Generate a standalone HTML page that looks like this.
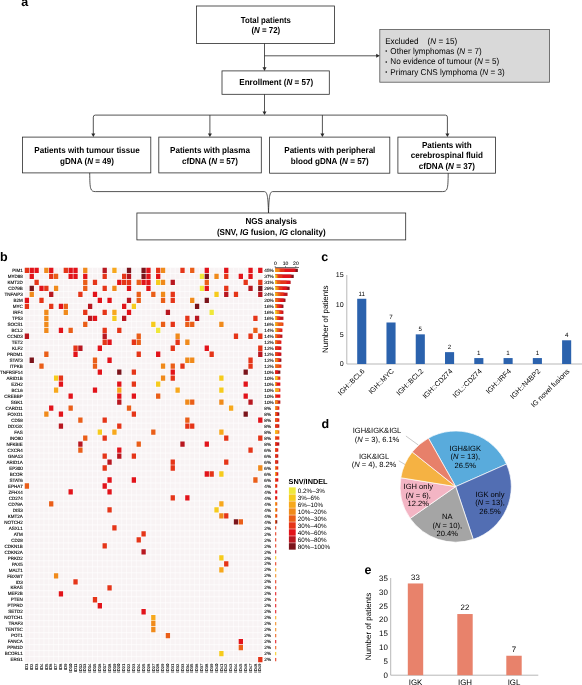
<!DOCTYPE html>
<html lang="en"><head><meta charset="utf-8"><title>Figure</title>
<style>html,body{margin:0;padding:0;background:#fff}svg{display:block}text{font-family:'Liberation Sans', Arial, Helvetica, sans-serif;fill:#000;text-rendering:geometricPrecision}</style></head><body>
<svg width="582" height="685" viewBox="0 0 582 685">
<rect x="0" y="0" width="582" height="685" fill="#fff"/>
<g id="panel-a" fill="none" stroke="#2a2a2a" stroke-width="0.8">
<rect x="196.5" y="6.0" width="138.0" height="37.4" fill="#fff" stroke="#2a2a2a"/>
<rect x="222.0" y="70.9" width="107.3" height="23.4" fill="#fff" stroke="#2a2a2a"/>
<rect x="379.8" y="29.5" width="169.8" height="52.7" fill="#D9D9D9" stroke="#555"/>
<rect x="22.4" y="137.1" width="128.4" height="35.8" fill="#fff" stroke="#2a2a2a"/>
<rect x="158.8" y="137.1" width="102.5" height="35.8" fill="#fff" stroke="#2a2a2a"/>
<rect x="269.6" y="137.1" width="120.2" height="36.1" fill="#fff" stroke="#2a2a2a"/>
<rect x="397.9" y="137.1" width="97.6" height="36.1" fill="#fff" stroke="#2a2a2a"/>
<rect x="136.9" y="213.0" width="268.8" height="26.9" fill="#fff" stroke="#2a2a2a"/>
<path d="M264.5 43.4V68"/>
<path d="M264.5 55.8H377"/>
<path d="M264.5 94.3V113"/>
<path d="M93.3 135V117.1Q93.3 115.1 95.3 115.1H445.4Q447.4 115.1 447.4 117.1V135"/>
<path d="M209.9 115.1V135"/>
<path d="M322.4 115.1V135"/>
<path d="M89.7 172.9C89.8 181 89.9 186 90.8 188.6C91.6 191 93 191.6 95.5 191.6H264.2C267.4 191.6 268 197 268.5 213C269 197 269.6 191.6 272.8 191.6H442.4C444.9 191.6 446.3 191 447.1 188.6C448 186 448.1 181 448.2 173.2"/>
</g>
<path d="M264.5 70.9L262.5 67.3L266.5 67.3Z" fill="#2a2a2a"/>
<path d="M379.8 55.8L376.2 53.8L376.2 57.8Z" fill="#2a2a2a"/>
<path d="M264.5 115.1L262.5 111.5L266.5 111.5Z" fill="#2a2a2a"/>
<path d="M93.3 137.1L91.3 133.5L95.3 133.5Z" fill="#2a2a2a"/>
<path d="M209.9 137.1L207.9 133.5L211.9 133.5Z" fill="#2a2a2a"/>
<path d="M322.4 137.1L320.4 133.5L324.4 133.5Z" fill="#2a2a2a"/>
<path d="M447.4 137.1L445.4 133.5L449.4 133.5Z" fill="#2a2a2a"/>
<g font-size="8.6" font-weight="bold" text-anchor="middle" fill="#000">
<text transform="translate(265.80 22.90) scale(0.905 1)">Total patients</text>
<text transform="translate(265.80 33.10) scale(0.920 1)">(<tspan font-style="italic">N</tspan> = 72)</text>
<text transform="translate(276.20 85.40) scale(0.940 1)">Enrollment (<tspan font-style="italic">N</tspan> = 57)</text>
<text transform="translate(87.00 152.90) scale(0.940 1)">Patients with tumour tissue</text>
<text transform="translate(87.00 163.90) scale(0.940 1)">gDNA (<tspan font-style="italic">N</tspan> = 49)</text>
<text transform="translate(210.00 152.90) scale(0.940 1)">Patients with plasma</text>
<text transform="translate(210.00 163.90) scale(0.940 1)">cfDNA (<tspan font-style="italic">N</tspan> = 57)</text>
<text transform="translate(329.80 152.90) scale(0.940 1)">Patients with peripheral</text>
<text transform="translate(329.80 163.90) scale(0.940 1)">blood gDNA (<tspan font-style="italic">N</tspan> = 57)</text>
<text transform="translate(446.80 148.10) scale(0.940 1)">Patients with</text>
<text transform="translate(446.80 158.30) scale(0.940 1)">cerebrospinal fluid</text>
<text transform="translate(446.80 168.90) scale(0.940 1)">cfDNA (<tspan font-style="italic">N</tspan> = 37)</text>
<text transform="translate(271.30 224.10) scale(0.940 1)">NGS analysis</text>
<text transform="translate(271.30 234.60) scale(0.940 1)">(SNV, <tspan font-style="italic">IG</tspan> fusion, <tspan font-style="italic">IG</tspan> clonality)</text>
</g>
<g font-size="8.5" fill="#000">
<text transform="translate(385.20 43.60) scale(0.955 1)">Excluded <tspan dx="7">(<tspan font-style="italic">N</tspan> = 15)</tspan></text>
<text transform="translate(385.20 53.90) scale(0.955 1)"><tspan font-size="6" dy="-0.7">•</tspan><tspan dy="0.7" dx="0.9"> </tspan>Other lymphomas (<tspan font-style="italic">N</tspan> = 7)</text>
<text transform="translate(385.20 64.30) scale(0.955 1)"><tspan font-size="6" dy="-0.7">•</tspan><tspan dy="0.7" dx="0.9"> </tspan>No evidence of tumour (<tspan font-style="italic">N</tspan> = 5)</text>
<text transform="translate(385.20 74.70) scale(0.955 1)"><tspan font-size="6" dy="-0.7">•</tspan><tspan dy="0.7" dx="0.9"> </tspan>Primary CNS lymphoma (<tspan font-style="italic">N</tspan> = 3)</text>
</g>
<g font-size="12.5" font-weight="bold" fill="#000">
<text x="21.3" y="5.8">a</text>
<text x="0.0" y="261.1">b</text>
<text x="321.2" y="261.3">c</text>
<text x="321.6" y="428.0">d</text>
<text x="364.4" y="574.1">e</text>
</g>
<g id="panel-b">
<rect x="24.76" y="267.75" width="237.68" height="394.55" fill="#F8F3F4"/>
<path d="M29.34 267.75V662.99M34.20 267.75V662.99M39.07 267.75V662.99M43.93 267.75V662.99M48.79 267.75V662.99M53.65 267.75V662.99M58.51 267.75V662.99M63.38 267.75V662.99M68.24 267.75V662.99M73.10 267.75V662.99M77.96 267.75V662.99M82.82 267.75V662.99M87.69 267.75V662.99M92.55 267.75V662.99M97.41 267.75V662.99M102.27 267.75V662.99M107.13 267.75V662.99M112.00 267.75V662.99M116.86 267.75V662.99M121.72 267.75V662.99M126.58 267.75V662.99M131.44 267.75V662.99M136.31 267.75V662.99M141.17 267.75V662.99M146.03 267.75V662.99M150.89 267.75V662.99M155.75 267.75V662.99M160.61 267.75V662.99M165.48 267.75V662.99M170.34 267.75V662.99M175.20 267.75V662.99M180.06 267.75V662.99M184.92 267.75V662.99M189.79 267.75V662.99M194.65 267.75V662.99M199.51 267.75V662.99M204.37 267.75V662.99M209.23 267.75V662.99M214.10 267.75V662.99M218.96 267.75V662.99M223.82 267.75V662.99M228.68 267.75V662.99M233.54 267.75V662.99M238.41 267.75V662.99M243.27 267.75V662.99M248.13 267.75V662.99M252.99 267.75V662.99M257.86 267.75V662.99" stroke="#fff" stroke-width="0.56" fill="none"/>
<path d="M24.76 273.39H263.00M24.76 279.38H263.00M24.76 285.37H263.00M24.76 291.36H263.00M24.76 297.35H263.00M24.76 303.34H263.00M24.76 309.33H263.00M24.76 315.31H263.00M24.76 321.30H263.00M24.76 327.29H263.00M24.76 333.28H263.00M24.76 339.27H263.00M24.76 345.26H263.00M24.76 351.24H263.00M24.76 357.23H263.00M24.76 363.22H263.00M24.76 369.21H263.00M24.76 375.20H263.00M24.76 381.19H263.00M24.76 387.18H263.00M24.76 393.16H263.00M24.76 399.15H263.00M24.76 405.14H263.00M24.76 411.13H263.00M24.76 417.12H263.00M24.76 423.11H263.00M24.76 429.10H263.00M24.76 435.08H263.00M24.76 441.07H263.00M24.76 447.06H263.00M24.76 453.05H263.00M24.76 459.04H263.00M24.76 465.03H263.00M24.76 471.01H263.00M24.76 477.00H263.00M24.76 482.99H263.00M24.76 488.98H263.00M24.76 494.97H263.00M24.76 500.96H263.00M24.76 506.95H263.00M24.76 512.93H263.00M24.76 518.92H263.00M24.76 524.91H263.00M24.76 530.90H263.00M24.76 536.89H263.00M24.76 542.88H263.00M24.76 548.87H263.00M24.76 554.85H263.00M24.76 560.84H263.00M24.76 566.83H263.00M24.76 572.82H263.00M24.76 578.81H263.00M24.76 584.80H263.00M24.76 590.78H263.00M24.76 596.77H263.00M24.76 602.76H263.00M24.76 608.75H263.00M24.76 614.74H263.00M24.76 620.73H263.00M24.76 626.72H263.00M24.76 632.70H263.00M24.76 638.69H263.00M24.76 644.68H263.00M24.76 650.67H263.00M24.76 656.66H263.00" stroke="#fff" stroke-width="0.69" fill="none"/>
<path d="M199.79 273.74h4.30v5.30h-4.30zM199.79 285.72h4.30v5.30h-4.30zM209.52 309.67h4.30v5.30h-4.30zM156.03 327.63h4.30v5.30h-4.30z" fill="#EFE83A"/>
<path d="M156.03 279.73h4.30v5.30h-4.30zM214.38 291.70h4.30v5.30h-4.30zM131.72 303.68h4.30v5.30h-4.30zM112.28 315.66h4.30v5.30h-4.30zM151.17 321.65h4.30v5.30h-4.30zM53.93 375.54h4.30v5.30h-4.30zM219.24 375.54h4.30v5.30h-4.30zM156.03 381.53h4.30v5.30h-4.30zM219.24 387.52h4.30v5.30h-4.30zM97.69 429.44h4.30v5.30h-4.30zM219.24 471.36h4.30v5.30h-4.30zM214.38 507.29h4.30v5.30h-4.30zM219.24 555.20h4.30v5.30h-4.30zM219.24 651.01h4.30v5.30h-4.30z" fill="#F6CB1C"/>
<path d="M112.28 267.75h4.30v5.30h-4.30zM112.28 309.67h4.30v5.30h-4.30zM53.93 387.52h4.30v5.30h-4.30zM117.14 387.52h4.30v5.30h-4.30zM175.48 387.52h4.30v5.30h-4.30zM228.96 405.49h4.30v5.30h-4.30zM112.28 429.44h4.30v5.30h-4.30zM219.24 429.44h4.30v5.30h-4.30zM219.24 501.30h4.30v5.30h-4.30zM219.24 567.17h4.30v5.30h-4.30zM151.17 615.08h4.30v5.30h-4.30z" fill="#F7A81C"/>
<path d="M44.21 267.75h4.30v5.30h-4.30zM83.10 267.75h4.30v5.30h-4.30zM160.90 267.75h4.30v5.30h-4.30zM214.38 273.74h4.30v5.30h-4.30zM160.90 279.73h4.30v5.30h-4.30zM53.93 285.72h4.30v5.30h-4.30zM112.28 285.72h4.30v5.30h-4.30zM29.62 291.70h4.30v5.30h-4.30zM160.90 291.70h4.30v5.30h-4.30zM190.07 297.69h4.30v5.30h-4.30zM44.21 309.67h4.30v5.30h-4.30zM63.66 309.67h4.30v5.30h-4.30zM44.21 315.66h4.30v5.30h-4.30zM44.21 321.65h4.30v5.30h-4.30zM219.24 321.65h4.30v5.30h-4.30zM44.21 327.63h4.30v5.30h-4.30zM175.48 333.62h4.30v5.30h-4.30zM185.21 339.61h4.30v5.30h-4.30zM185.21 357.58h4.30v5.30h-4.30zM190.07 357.58h4.30v5.30h-4.30zM160.90 363.57h4.30v5.30h-4.30zM160.90 375.54h4.30v5.30h-4.30zM185.21 399.50h4.30v5.30h-4.30zM219.24 399.50h4.30v5.30h-4.30zM44.21 411.47h4.30v5.30h-4.30zM258.14 465.37h4.30v5.30h-4.30zM219.24 513.28h4.30v5.30h-4.30zM53.93 573.16h4.30v5.30h-4.30zM151.17 621.07h4.30v5.30h-4.30zM151.17 627.06h4.30v5.30h-4.30z" fill="#F08A1B"/>
<path d="M190.07 267.75h4.30v5.30h-4.30zM53.93 273.74h4.30v5.30h-4.30zM83.10 279.73h4.30v5.30h-4.30zM136.59 279.73h4.30v5.30h-4.30zM204.65 279.73h4.30v5.30h-4.30zM83.10 285.72h4.30v5.30h-4.30zM136.59 291.70h4.30v5.30h-4.30zM151.17 291.70h4.30v5.30h-4.30zM136.59 297.69h4.30v5.30h-4.30zM160.90 297.69h4.30v5.30h-4.30zM63.66 303.68h4.30v5.30h-4.30zM83.10 321.65h4.30v5.30h-4.30zM160.90 321.65h4.30v5.30h-4.30zM185.21 321.65h4.30v5.30h-4.30zM190.07 321.65h4.30v5.30h-4.30zM68.52 327.63h4.30v5.30h-4.30zM253.27 327.63h4.30v5.30h-4.30zM136.59 333.62h4.30v5.30h-4.30zM136.59 339.61h4.30v5.30h-4.30zM44.21 351.59h4.30v5.30h-4.30zM92.83 357.58h4.30v5.30h-4.30zM39.35 363.57h4.30v5.30h-4.30zM92.83 363.57h4.30v5.30h-4.30zM170.62 363.57h4.30v5.30h-4.30zM156.03 393.51h4.30v5.30h-4.30zM190.07 399.50h4.30v5.30h-4.30zM68.52 405.49h4.30v5.30h-4.30zM126.86 405.49h4.30v5.30h-4.30zM78.24 417.46h4.30v5.30h-4.30zM185.21 417.46h4.30v5.30h-4.30zM151.17 429.44h4.30v5.30h-4.30zM83.10 435.43h4.30v5.30h-4.30zM136.59 441.42h4.30v5.30h-4.30zM78.24 447.40h4.30v5.30h-4.30zM253.27 477.35h4.30v5.30h-4.30zM24.76 483.34h4.30v5.30h-4.30zM49.07 501.30h4.30v5.30h-4.30zM238.69 519.27h4.30v5.30h-4.30zM165.76 633.05h4.30v5.30h-4.30zM238.69 645.03h4.30v5.30h-4.30z" fill="#EA5E18"/>
<path d="M24.76 267.75h4.30v5.30h-4.30zM63.66 267.75h4.30v5.30h-4.30zM156.03 267.75h4.30v5.30h-4.30zM180.34 267.75h4.30v5.30h-4.30zM49.07 273.74h4.30v5.30h-4.30zM102.55 273.74h4.30v5.30h-4.30zM122.00 273.74h4.30v5.30h-4.30zM224.10 273.74h4.30v5.30h-4.30zM34.48 279.73h4.30v5.30h-4.30zM92.83 279.73h4.30v5.30h-4.30zM122.00 279.73h4.30v5.30h-4.30zM126.86 279.73h4.30v5.30h-4.30zM243.55 279.73h4.30v5.30h-4.30zM258.14 279.73h4.30v5.30h-4.30zM44.21 285.72h4.30v5.30h-4.30zM102.55 285.72h4.30v5.30h-4.30zM224.10 285.72h4.30v5.30h-4.30zM78.24 291.70h4.30v5.30h-4.30zM170.62 291.70h4.30v5.30h-4.30zM233.83 291.70h4.30v5.30h-4.30zM39.35 297.69h4.30v5.30h-4.30zM170.62 297.69h4.30v5.30h-4.30zM24.76 303.68h4.30v5.30h-4.30zM49.07 303.68h4.30v5.30h-4.30zM83.10 309.67h4.30v5.30h-4.30zM102.55 309.67h4.30v5.30h-4.30zM185.21 315.66h4.30v5.30h-4.30zM253.27 315.66h4.30v5.30h-4.30zM170.62 321.65h4.30v5.30h-4.30zM102.55 327.63h4.30v5.30h-4.30zM117.14 327.63h4.30v5.30h-4.30zM233.83 333.62h4.30v5.30h-4.30zM248.41 333.62h4.30v5.30h-4.30zM258.14 333.62h4.30v5.30h-4.30zM102.55 339.61h4.30v5.30h-4.30zM131.72 339.61h4.30v5.30h-4.30zM175.48 339.61h4.30v5.30h-4.30zM73.38 345.60h4.30v5.30h-4.30zM170.62 345.60h4.30v5.30h-4.30zM258.14 345.60h4.30v5.30h-4.30zM136.59 351.59h4.30v5.30h-4.30zM209.52 351.59h4.30v5.30h-4.30zM248.41 357.58h4.30v5.30h-4.30zM180.34 363.57h4.30v5.30h-4.30zM248.41 363.57h4.30v5.30h-4.30zM131.72 369.55h4.30v5.30h-4.30zM58.79 375.54h4.30v5.30h-4.30zM170.62 375.54h4.30v5.30h-4.30zM131.72 381.53h4.30v5.30h-4.30zM131.72 411.47h4.30v5.30h-4.30zM102.55 417.46h4.30v5.30h-4.30zM117.14 423.45h4.30v5.30h-4.30zM185.21 423.45h4.30v5.30h-4.30zM190.07 423.45h4.30v5.30h-4.30zM102.55 435.43h4.30v5.30h-4.30zM224.10 435.43h4.30v5.30h-4.30zM258.14 435.43h4.30v5.30h-4.30zM248.41 447.40h4.30v5.30h-4.30zM102.55 453.39h4.30v5.30h-4.30zM131.72 453.39h4.30v5.30h-4.30zM170.62 459.38h4.30v5.30h-4.30zM224.10 459.38h4.30v5.30h-4.30zM102.55 465.37h4.30v5.30h-4.30zM170.62 465.37h4.30v5.30h-4.30zM209.52 471.36h4.30v5.30h-4.30zM170.62 495.31h4.30v5.30h-4.30zM107.41 507.29h4.30v5.30h-4.30zM224.10 513.28h4.30v5.30h-4.30zM112.28 525.26h4.30v5.30h-4.30zM141.45 531.24h4.30v5.30h-4.30zM136.59 537.23h4.30v5.30h-4.30zM102.55 543.22h4.30v5.30h-4.30zM224.10 561.19h4.30v5.30h-4.30zM73.38 579.15h4.30v5.30h-4.30zM107.41 585.14h4.30v5.30h-4.30zM92.83 597.12h4.30v5.30h-4.30zM258.14 657.00h4.30v5.30h-4.30z" fill="#E53518"/>
<path d="M29.62 267.75h4.30v5.30h-4.30zM34.48 267.75h4.30v5.30h-4.30zM49.07 267.75h4.30v5.30h-4.30zM68.52 267.75h4.30v5.30h-4.30zM73.38 267.75h4.30v5.30h-4.30zM146.31 267.75h4.30v5.30h-4.30zM204.65 267.75h4.30v5.30h-4.30zM224.10 267.75h4.30v5.30h-4.30zM248.41 267.75h4.30v5.30h-4.30zM258.14 267.75h4.30v5.30h-4.30zM29.62 273.74h4.30v5.30h-4.30zM68.52 273.74h4.30v5.30h-4.30zM73.38 273.74h4.30v5.30h-4.30zM83.10 273.74h4.30v5.30h-4.30zM146.31 273.74h4.30v5.30h-4.30zM156.03 273.74h4.30v5.30h-4.30zM238.69 273.74h4.30v5.30h-4.30zM248.41 273.74h4.30v5.30h-4.30zM117.14 279.73h4.30v5.30h-4.30zM141.45 279.73h4.30v5.30h-4.30zM146.31 279.73h4.30v5.30h-4.30zM39.35 285.72h4.30v5.30h-4.30zM126.86 285.72h4.30v5.30h-4.30zM146.31 285.72h4.30v5.30h-4.30zM204.65 285.72h4.30v5.30h-4.30zM92.83 291.70h4.30v5.30h-4.30zM24.76 297.69h4.30v5.30h-4.30zM97.69 297.69h4.30v5.30h-4.30zM107.41 297.69h4.30v5.30h-4.30zM58.79 303.68h4.30v5.30h-4.30zM122.00 303.68h4.30v5.30h-4.30zM126.86 309.67h4.30v5.30h-4.30zM92.83 315.66h4.30v5.30h-4.30zM58.79 327.63h4.30v5.30h-4.30zM107.41 339.61h4.30v5.30h-4.30zM97.69 345.60h4.30v5.30h-4.30zM204.65 345.60h4.30v5.30h-4.30zM73.38 351.59h4.30v5.30h-4.30zM156.03 351.59h4.30v5.30h-4.30zM107.41 357.58h4.30v5.30h-4.30zM97.69 369.55h4.30v5.30h-4.30zM170.62 369.55h4.30v5.30h-4.30zM58.79 381.53h4.30v5.30h-4.30zM117.14 381.53h4.30v5.30h-4.30zM243.55 381.53h4.30v5.30h-4.30zM92.83 387.52h4.30v5.30h-4.30zM68.52 393.51h4.30v5.30h-4.30zM117.14 393.51h4.30v5.30h-4.30zM131.72 393.51h4.30v5.30h-4.30zM243.55 393.51h4.30v5.30h-4.30zM49.07 405.49h4.30v5.30h-4.30zM58.79 411.47h4.30v5.30h-4.30zM258.14 417.46h4.30v5.30h-4.30zM204.65 441.42h4.30v5.30h-4.30zM117.14 447.40h4.30v5.30h-4.30zM204.65 471.36h4.30v5.30h-4.30zM107.41 477.35h4.30v5.30h-4.30zM131.72 477.35h4.30v5.30h-4.30zM102.55 483.34h4.30v5.30h-4.30zM68.52 489.32h4.30v5.30h-4.30zM107.41 489.32h4.30v5.30h-4.30zM185.21 495.31h4.30v5.30h-4.30zM58.79 591.13h4.30v5.30h-4.30zM97.69 603.11h4.30v5.30h-4.30zM141.45 609.09h4.30v5.30h-4.30zM238.69 639.04h4.30v5.30h-4.30z" fill="#E2131A"/>
<path d="M102.55 267.75h4.30v5.30h-4.30zM126.86 273.74h4.30v5.30h-4.30zM170.62 279.73h4.30v5.30h-4.30zM248.41 285.72h4.30v5.30h-4.30zM49.07 291.70h4.30v5.30h-4.30zM224.10 291.70h4.30v5.30h-4.30zM258.14 291.70h4.30v5.30h-4.30zM126.86 297.69h4.30v5.30h-4.30zM87.97 303.68h4.30v5.30h-4.30zM165.76 309.67h4.30v5.30h-4.30zM87.97 315.66h4.30v5.30h-4.30zM122.00 315.66h4.30v5.30h-4.30zM194.93 315.66h4.30v5.30h-4.30zM24.76 333.62h4.30v5.30h-4.30zM102.55 333.62h4.30v5.30h-4.30zM78.24 345.60h4.30v5.30h-4.30zM258.14 351.59h4.30v5.30h-4.30zM117.14 399.50h4.30v5.30h-4.30zM248.41 399.50h4.30v5.30h-4.30zM58.79 423.45h4.30v5.30h-4.30zM78.24 441.42h4.30v5.30h-4.30zM180.34 441.42h4.30v5.30h-4.30zM117.14 453.39h4.30v5.30h-4.30zM107.41 459.38h4.30v5.30h-4.30zM141.45 549.21h4.30v5.30h-4.30z" fill="#B81720"/>
<path d="M126.86 267.75h4.30v5.30h-4.30zM141.45 267.75h4.30v5.30h-4.30zM141.45 273.74h4.30v5.30h-4.30zM204.65 273.74h4.30v5.30h-4.30zM29.62 285.72h4.30v5.30h-4.30zM258.14 285.72h4.30v5.30h-4.30zM204.65 297.69h4.30v5.30h-4.30zM194.93 303.68h4.30v5.30h-4.30zM29.62 357.58h4.30v5.30h-4.30zM117.14 369.55h4.30v5.30h-4.30zM243.55 369.55h4.30v5.30h-4.30zM243.55 411.47h4.30v5.30h-4.30zM233.83 519.27h4.30v5.30h-4.30z" fill="#7B141B"/>
<g font-size="4.75" text-anchor="end" fill="#000" stroke="#000" stroke-width="0.12">
<text transform="translate(22.85 272.10) scale(0.950 1)">PIM1</text>
<text transform="translate(22.85 278.09) scale(0.950 1)">MYD88</text>
<text transform="translate(22.85 284.08) scale(0.950 1)">KMT2D</text>
<text transform="translate(22.85 290.07) scale(0.950 1)">CD79B</text>
<text transform="translate(22.85 296.05) scale(0.950 1)">TNFAIP3</text>
<text transform="translate(22.85 302.04) scale(0.950 1)">B2M</text>
<text transform="translate(22.85 308.03) scale(0.950 1)">MYC</text>
<text transform="translate(22.85 314.02) scale(0.950 1)">IRF4</text>
<text transform="translate(22.85 320.01) scale(0.950 1)">TP53</text>
<text transform="translate(22.85 326.00) scale(0.950 1)">SOCS1</text>
<text transform="translate(22.85 331.98) scale(0.950 1)">BCL2</text>
<text transform="translate(22.85 337.97) scale(0.950 1)">CCND3</text>
<text transform="translate(22.85 343.96) scale(0.950 1)">TET2</text>
<text transform="translate(22.85 349.95) scale(0.950 1)">KLF2</text>
<text transform="translate(22.85 355.94) scale(0.950 1)">PRDM1</text>
<text transform="translate(22.85 361.93) scale(0.950 1)">STAT3</text>
<text transform="translate(22.85 367.92) scale(0.950 1)">ITPKB</text>
<text transform="translate(22.85 373.90) scale(0.950 1)">TNFRSF14</text>
<text transform="translate(22.85 379.89) scale(0.950 1)">ARID1B</text>
<text transform="translate(22.85 385.88) scale(0.950 1)">EZH2</text>
<text transform="translate(22.85 391.87) scale(0.950 1)">BCL6</text>
<text transform="translate(22.85 397.86) scale(0.950 1)">CREBBP</text>
<text transform="translate(22.85 403.85) scale(0.950 1)">SGK1</text>
<text transform="translate(22.85 409.84) scale(0.950 1)">CARD11</text>
<text transform="translate(22.85 415.82) scale(0.950 1)">FOXO1</text>
<text transform="translate(22.85 421.81) scale(0.950 1)">CD58</text>
<text transform="translate(22.85 427.80) scale(0.950 1)">DDX3X</text>
<text transform="translate(22.85 433.79) scale(0.950 1)">FAS</text>
<text transform="translate(22.85 439.78) scale(0.950 1)">INO80</text>
<text transform="translate(22.85 445.77) scale(0.950 1)">NFKBIE</text>
<text transform="translate(22.85 451.75) scale(0.950 1)">CXCR4</text>
<text transform="translate(22.85 457.74) scale(0.950 1)">GNA13</text>
<text transform="translate(22.85 463.73) scale(0.950 1)">ARID1A</text>
<text transform="translate(22.85 469.72) scale(0.950 1)">EP300</text>
<text transform="translate(22.85 475.71) scale(0.950 1)">BCOR</text>
<text transform="translate(22.85 481.70) scale(0.950 1)">STAT6</text>
<text transform="translate(22.85 487.69) scale(0.950 1)">EPHA7</text>
<text transform="translate(22.85 493.67) scale(0.950 1)">ZFHX4</text>
<text transform="translate(22.85 499.66) scale(0.950 1)">CD274</text>
<text transform="translate(22.85 505.65) scale(0.950 1)">CD79A</text>
<text transform="translate(22.85 511.64) scale(0.950 1)">DIS3</text>
<text transform="translate(22.85 517.63) scale(0.950 1)">KMT2A</text>
<text transform="translate(22.85 523.62) scale(0.950 1)">NOTCH2</text>
<text transform="translate(22.85 529.61) scale(0.950 1)">ASXL1</text>
<text transform="translate(22.85 535.59) scale(0.950 1)">ATM</text>
<text transform="translate(22.85 541.58) scale(0.950 1)">CD28</text>
<text transform="translate(22.85 547.57) scale(0.950 1)">CDKN1B</text>
<text transform="translate(22.85 553.56) scale(0.950 1)">CDKN2A</text>
<text transform="translate(22.85 559.55) scale(0.950 1)">PRKD2</text>
<text transform="translate(22.85 565.54) scale(0.950 1)">PAX5</text>
<text transform="translate(22.85 571.52) scale(0.950 1)">MALT1</text>
<text transform="translate(22.85 577.51) scale(0.950 1)">FBXW7</text>
<text transform="translate(22.85 583.50) scale(0.950 1)">ID3</text>
<text transform="translate(22.85 589.49) scale(0.950 1)">KRAS</text>
<text transform="translate(22.85 595.48) scale(0.950 1)">MEF2B</text>
<text transform="translate(22.85 601.47) scale(0.950 1)">PTEN</text>
<text transform="translate(22.85 607.46) scale(0.950 1)">PTPRD</text>
<text transform="translate(22.85 613.44) scale(0.950 1)">SETD2</text>
<text transform="translate(22.85 619.43) scale(0.950 1)">NOTCH1</text>
<text transform="translate(22.85 625.42) scale(0.950 1)">TRAF3</text>
<text transform="translate(22.85 631.41) scale(0.950 1)">TENT5C</text>
<text transform="translate(22.85 637.40) scale(0.950 1)">POT1</text>
<text transform="translate(22.85 643.39) scale(0.950 1)">FANCA</text>
<text transform="translate(22.85 649.38) scale(0.950 1)">PPM1D</text>
<text transform="translate(22.85 655.36) scale(0.950 1)">BCORL1</text>
<text transform="translate(22.85 661.35) scale(0.950 1)">ERG1</text>
</g>
<g font-size="4.15" text-anchor="end" fill="#000" stroke="#000" stroke-width="0.08">
<text transform="translate(28.11 663.7) rotate(-90)">ID1</text>
<text transform="translate(32.97 663.7) rotate(-90)">ID2</text>
<text transform="translate(37.83 663.7) rotate(-90)">ID3</text>
<text transform="translate(42.70 663.7) rotate(-90)">ID4</text>
<text transform="translate(47.56 663.7) rotate(-90)">ID5</text>
<text transform="translate(52.42 663.7) rotate(-90)">ID6</text>
<text transform="translate(57.28 663.7) rotate(-90)">ID7</text>
<text transform="translate(62.14 663.7) rotate(-90)">ID8</text>
<text transform="translate(67.01 663.7) rotate(-90)">ID9</text>
<text transform="translate(71.87 663.7) rotate(-90)">ID10</text>
<text transform="translate(76.73 663.7) rotate(-90)">ID11</text>
<text transform="translate(81.59 663.7) rotate(-90)">ID12</text>
<text transform="translate(86.45 663.7) rotate(-90)">ID13</text>
<text transform="translate(91.32 663.7) rotate(-90)">ID14</text>
<text transform="translate(96.18 663.7) rotate(-90)">ID15</text>
<text transform="translate(101.04 663.7) rotate(-90)">ID16</text>
<text transform="translate(105.90 663.7) rotate(-90)">ID17</text>
<text transform="translate(110.76 663.7) rotate(-90)">ID18</text>
<text transform="translate(115.63 663.7) rotate(-90)">ID19</text>
<text transform="translate(120.49 663.7) rotate(-90)">ID20</text>
<text transform="translate(125.35 663.7) rotate(-90)">ID21</text>
<text transform="translate(130.21 663.7) rotate(-90)">ID22</text>
<text transform="translate(135.07 663.7) rotate(-90)">ID23</text>
<text transform="translate(139.94 663.7) rotate(-90)">ID24</text>
<text transform="translate(144.80 663.7) rotate(-90)">ID25</text>
<text transform="translate(149.66 663.7) rotate(-90)">ID26</text>
<text transform="translate(154.52 663.7) rotate(-90)">ID27</text>
<text transform="translate(159.38 663.7) rotate(-90)">ID28</text>
<text transform="translate(164.25 663.7) rotate(-90)">ID29</text>
<text transform="translate(169.11 663.7) rotate(-90)">ID30</text>
<text transform="translate(173.97 663.7) rotate(-90)">ID31</text>
<text transform="translate(178.83 663.7) rotate(-90)">ID32</text>
<text transform="translate(183.69 663.7) rotate(-90)">ID33</text>
<text transform="translate(188.56 663.7) rotate(-90)">ID34</text>
<text transform="translate(193.42 663.7) rotate(-90)">ID35</text>
<text transform="translate(198.28 663.7) rotate(-90)">ID36</text>
<text transform="translate(203.14 663.7) rotate(-90)">ID37</text>
<text transform="translate(208.00 663.7) rotate(-90)">ID38</text>
<text transform="translate(212.87 663.7) rotate(-90)">ID39</text>
<text transform="translate(217.73 663.7) rotate(-90)">ID40</text>
<text transform="translate(222.59 663.7) rotate(-90)">ID41</text>
<text transform="translate(227.45 663.7) rotate(-90)">ID42</text>
<text transform="translate(232.31 663.7) rotate(-90)">ID43</text>
<text transform="translate(237.18 663.7) rotate(-90)">ID44</text>
<text transform="translate(242.04 663.7) rotate(-90)">ID45</text>
<text transform="translate(246.90 663.7) rotate(-90)">ID46</text>
<text transform="translate(251.76 663.7) rotate(-90)">ID47</text>
<text transform="translate(256.62 663.7) rotate(-90)">ID48</text>
<text transform="translate(261.49 663.7) rotate(-90)">ID49</text>
</g>
<g font-size="4.7" fill="#000" stroke="#000" stroke-width="0.1">
<text x="264.3" y="272.05">45%</text>
<text x="264.3" y="278.04">37%</text>
<text x="264.3" y="284.03">31%</text>
<text x="264.3" y="290.02">29%</text>
<text x="264.3" y="296.00">24%</text>
<text x="264.3" y="301.99">20%</text>
<text x="264.3" y="307.98">16%</text>
<text x="264.3" y="313.97">16%</text>
<text x="264.3" y="319.96">16%</text>
<text x="264.3" y="325.95">16%</text>
<text x="264.3" y="331.93">14%</text>
<text x="264.3" y="337.92">14%</text>
<text x="264.3" y="343.91">12%</text>
<text x="264.3" y="349.90">12%</text>
<text x="264.3" y="355.89">12%</text>
<text x="264.3" y="361.88">12%</text>
<text x="264.3" y="367.87">12%</text>
<text x="264.3" y="373.85">10%</text>
<text x="264.3" y="379.84">10%</text>
<text x="264.3" y="385.83">10%</text>
<text x="264.3" y="391.82">10%</text>
<text x="264.3" y="397.81">10%</text>
<text x="264.3" y="403.80">10%</text>
<text x="264.3" y="409.79">8%</text>
<text x="264.3" y="415.77">8%</text>
<text x="264.3" y="421.76">8%</text>
<text x="264.3" y="427.75">8%</text>
<text x="264.3" y="433.74">8%</text>
<text x="264.3" y="439.73">8%</text>
<text x="264.3" y="445.72">8%</text>
<text x="264.3" y="451.70">6%</text>
<text x="264.3" y="457.69">6%</text>
<text x="264.3" y="463.68">6%</text>
<text x="264.3" y="469.67">6%</text>
<text x="264.3" y="475.66">6%</text>
<text x="264.3" y="481.65">6%</text>
<text x="264.3" y="487.64">4%</text>
<text x="264.3" y="493.62">4%</text>
<text x="264.3" y="499.61">4%</text>
<text x="264.3" y="505.60">4%</text>
<text x="264.3" y="511.59">4%</text>
<text x="264.3" y="517.58">4%</text>
<text x="264.3" y="523.57">4%</text>
<text x="264.3" y="529.56">2%</text>
<text x="264.3" y="535.54">2%</text>
<text x="264.3" y="541.53">2%</text>
<text x="264.3" y="547.52">2%</text>
<text x="264.3" y="553.51">2%</text>
<text x="264.3" y="559.50">2%</text>
<text x="264.3" y="565.49">2%</text>
<text x="264.3" y="571.47">2%</text>
<text x="264.3" y="577.46">2%</text>
<text x="264.3" y="583.45">2%</text>
<text x="264.3" y="589.44">2%</text>
<text x="264.3" y="595.43">2%</text>
<text x="264.3" y="601.42">2%</text>
<text x="264.3" y="607.41">2%</text>
<text x="264.3" y="613.39">2%</text>
<text x="264.3" y="619.38">2%</text>
<text x="264.3" y="625.37">2%</text>
<text x="264.3" y="631.36">2%</text>
<text x="264.3" y="637.35">2%</text>
<text x="264.3" y="643.34">2%</text>
<text x="264.3" y="649.33">2%</text>
<text x="264.3" y="655.31">2%</text>
<text x="264.3" y="661.30">2%</text>
</g>
<rect x="275.20" y="268.70" width="22.66" height="3.3" fill="#7B141B"/>
<rect x="275.20" y="268.70" width="20.60" height="3.3" fill="#B81720"/>
<rect x="275.20" y="268.70" width="19.57" height="3.3" fill="#E2131A"/>
<rect x="275.20" y="268.70" width="9.27" height="3.3" fill="#E53518"/>
<rect x="275.20" y="268.70" width="5.15" height="3.3" fill="#EA5E18"/>
<rect x="275.20" y="268.70" width="4.12" height="3.3" fill="#F08A1B"/>
<rect x="275.20" y="268.70" width="1.03" height="3.3" fill="#F7A81C"/>
<rect x="275.20" y="274.69" width="18.54" height="3.3" fill="#7B141B"/>
<rect x="275.20" y="274.69" width="16.48" height="3.3" fill="#B81720"/>
<rect x="275.20" y="274.69" width="15.45" height="3.3" fill="#E2131A"/>
<rect x="275.20" y="274.69" width="7.21" height="3.3" fill="#E53518"/>
<rect x="275.20" y="274.69" width="3.09" height="3.3" fill="#EA5E18"/>
<rect x="275.20" y="274.69" width="2.06" height="3.3" fill="#F08A1B"/>
<rect x="275.20" y="274.69" width="1.03" height="3.3" fill="#EFE83A"/>
<rect x="275.20" y="280.68" width="15.45" height="3.3" fill="#B81720"/>
<rect x="275.20" y="280.68" width="14.42" height="3.3" fill="#E2131A"/>
<rect x="275.20" y="280.68" width="11.33" height="3.3" fill="#E53518"/>
<rect x="275.20" y="280.68" width="5.15" height="3.3" fill="#EA5E18"/>
<rect x="275.20" y="280.68" width="2.06" height="3.3" fill="#F08A1B"/>
<rect x="275.20" y="280.68" width="1.03" height="3.3" fill="#F6CB1C"/>
<rect x="275.20" y="286.67" width="14.42" height="3.3" fill="#7B141B"/>
<rect x="275.20" y="286.67" width="12.36" height="3.3" fill="#B81720"/>
<rect x="275.20" y="286.67" width="11.33" height="3.3" fill="#E2131A"/>
<rect x="275.20" y="286.67" width="7.21" height="3.3" fill="#E53518"/>
<rect x="275.20" y="286.67" width="4.12" height="3.3" fill="#EA5E18"/>
<rect x="275.20" y="286.67" width="3.09" height="3.3" fill="#F08A1B"/>
<rect x="275.20" y="286.67" width="1.03" height="3.3" fill="#EFE83A"/>
<rect x="275.20" y="292.65" width="12.36" height="3.3" fill="#B81720"/>
<rect x="275.20" y="292.65" width="9.27" height="3.3" fill="#E2131A"/>
<rect x="275.20" y="292.65" width="8.24" height="3.3" fill="#E53518"/>
<rect x="275.20" y="292.65" width="5.15" height="3.3" fill="#EA5E18"/>
<rect x="275.20" y="292.65" width="3.09" height="3.3" fill="#F08A1B"/>
<rect x="275.20" y="292.65" width="1.03" height="3.3" fill="#F6CB1C"/>
<rect x="275.20" y="298.64" width="10.30" height="3.3" fill="#7B141B"/>
<rect x="275.20" y="298.64" width="9.27" height="3.3" fill="#B81720"/>
<rect x="275.20" y="298.64" width="8.24" height="3.3" fill="#E2131A"/>
<rect x="275.20" y="298.64" width="5.15" height="3.3" fill="#E53518"/>
<rect x="275.20" y="298.64" width="3.09" height="3.3" fill="#EA5E18"/>
<rect x="275.20" y="298.64" width="1.03" height="3.3" fill="#F08A1B"/>
<rect x="275.20" y="304.63" width="8.24" height="3.3" fill="#7B141B"/>
<rect x="275.20" y="304.63" width="7.21" height="3.3" fill="#B81720"/>
<rect x="275.20" y="304.63" width="6.18" height="3.3" fill="#E2131A"/>
<rect x="275.20" y="304.63" width="4.12" height="3.3" fill="#E53518"/>
<rect x="275.20" y="304.63" width="2.06" height="3.3" fill="#EA5E18"/>
<rect x="275.20" y="304.63" width="1.03" height="3.3" fill="#F6CB1C"/>
<rect x="275.20" y="310.62" width="8.24" height="3.3" fill="#B81720"/>
<rect x="275.20" y="310.62" width="7.21" height="3.3" fill="#E2131A"/>
<rect x="275.20" y="310.62" width="6.18" height="3.3" fill="#E53518"/>
<rect x="275.20" y="310.62" width="4.12" height="3.3" fill="#F08A1B"/>
<rect x="275.20" y="310.62" width="2.06" height="3.3" fill="#F7A81C"/>
<rect x="275.20" y="310.62" width="1.03" height="3.3" fill="#EFE83A"/>
<rect x="275.20" y="316.61" width="8.24" height="3.3" fill="#B81720"/>
<rect x="275.20" y="316.61" width="5.15" height="3.3" fill="#E2131A"/>
<rect x="275.20" y="316.61" width="4.12" height="3.3" fill="#E53518"/>
<rect x="275.20" y="316.61" width="2.06" height="3.3" fill="#F08A1B"/>
<rect x="275.20" y="316.61" width="1.03" height="3.3" fill="#F6CB1C"/>
<rect x="275.20" y="322.60" width="8.24" height="3.3" fill="#E53518"/>
<rect x="275.20" y="322.60" width="7.21" height="3.3" fill="#EA5E18"/>
<rect x="275.20" y="322.60" width="3.09" height="3.3" fill="#F08A1B"/>
<rect x="275.20" y="322.60" width="1.03" height="3.3" fill="#F6CB1C"/>
<rect x="275.20" y="328.58" width="7.21" height="3.3" fill="#E2131A"/>
<rect x="275.20" y="328.58" width="6.18" height="3.3" fill="#E53518"/>
<rect x="275.20" y="328.58" width="4.12" height="3.3" fill="#EA5E18"/>
<rect x="275.20" y="328.58" width="2.06" height="3.3" fill="#F08A1B"/>
<rect x="275.20" y="328.58" width="1.03" height="3.3" fill="#EFE83A"/>
<rect x="275.20" y="334.57" width="7.21" height="3.3" fill="#B81720"/>
<rect x="275.20" y="334.57" width="5.15" height="3.3" fill="#E53518"/>
<rect x="275.20" y="334.57" width="2.06" height="3.3" fill="#EA5E18"/>
<rect x="275.20" y="334.57" width="1.03" height="3.3" fill="#F08A1B"/>
<rect x="275.20" y="340.56" width="6.18" height="3.3" fill="#E2131A"/>
<rect x="275.20" y="340.56" width="5.15" height="3.3" fill="#E53518"/>
<rect x="275.20" y="340.56" width="2.06" height="3.3" fill="#EA5E18"/>
<rect x="275.20" y="340.56" width="1.03" height="3.3" fill="#F08A1B"/>
<rect x="275.20" y="346.55" width="6.18" height="3.3" fill="#B81720"/>
<rect x="275.20" y="346.55" width="5.15" height="3.3" fill="#E2131A"/>
<rect x="275.20" y="346.55" width="3.09" height="3.3" fill="#E53518"/>
<rect x="275.20" y="352.54" width="6.18" height="3.3" fill="#B81720"/>
<rect x="275.20" y="352.54" width="5.15" height="3.3" fill="#E2131A"/>
<rect x="275.20" y="352.54" width="3.09" height="3.3" fill="#E53518"/>
<rect x="275.20" y="352.54" width="1.03" height="3.3" fill="#EA5E18"/>
<rect x="275.20" y="358.53" width="6.18" height="3.3" fill="#7B141B"/>
<rect x="275.20" y="358.53" width="5.15" height="3.3" fill="#E2131A"/>
<rect x="275.20" y="358.53" width="4.12" height="3.3" fill="#E53518"/>
<rect x="275.20" y="358.53" width="3.09" height="3.3" fill="#EA5E18"/>
<rect x="275.20" y="358.53" width="2.06" height="3.3" fill="#F08A1B"/>
<rect x="275.20" y="364.52" width="6.18" height="3.3" fill="#E53518"/>
<rect x="275.20" y="364.52" width="4.12" height="3.3" fill="#EA5E18"/>
<rect x="275.20" y="364.52" width="1.03" height="3.3" fill="#F08A1B"/>
<rect x="275.20" y="370.50" width="5.15" height="3.3" fill="#7B141B"/>
<rect x="275.20" y="370.50" width="3.09" height="3.3" fill="#E2131A"/>
<rect x="275.20" y="370.50" width="1.03" height="3.3" fill="#E53518"/>
<rect x="275.20" y="376.49" width="5.15" height="3.3" fill="#E53518"/>
<rect x="275.20" y="376.49" width="3.09" height="3.3" fill="#F08A1B"/>
<rect x="275.20" y="376.49" width="2.06" height="3.3" fill="#F6CB1C"/>
<rect x="275.20" y="382.48" width="5.15" height="3.3" fill="#E2131A"/>
<rect x="275.20" y="382.48" width="2.06" height="3.3" fill="#E53518"/>
<rect x="275.20" y="382.48" width="1.03" height="3.3" fill="#F6CB1C"/>
<rect x="275.20" y="388.47" width="5.15" height="3.3" fill="#E2131A"/>
<rect x="275.20" y="388.47" width="4.12" height="3.3" fill="#F7A81C"/>
<rect x="275.20" y="388.47" width="1.03" height="3.3" fill="#F6CB1C"/>
<rect x="275.20" y="394.46" width="5.15" height="3.3" fill="#E2131A"/>
<rect x="275.20" y="394.46" width="1.03" height="3.3" fill="#EA5E18"/>
<rect x="275.20" y="400.45" width="5.15" height="3.3" fill="#B81720"/>
<rect x="275.20" y="400.45" width="3.09" height="3.3" fill="#EA5E18"/>
<rect x="275.20" y="400.45" width="2.06" height="3.3" fill="#F08A1B"/>
<rect x="275.20" y="406.44" width="4.12" height="3.3" fill="#E2131A"/>
<rect x="275.20" y="406.44" width="3.09" height="3.3" fill="#EA5E18"/>
<rect x="275.20" y="406.44" width="1.03" height="3.3" fill="#F7A81C"/>
<rect x="275.20" y="412.42" width="4.12" height="3.3" fill="#7B141B"/>
<rect x="275.20" y="412.42" width="3.09" height="3.3" fill="#E2131A"/>
<rect x="275.20" y="412.42" width="2.06" height="3.3" fill="#E53518"/>
<rect x="275.20" y="412.42" width="1.03" height="3.3" fill="#F08A1B"/>
<rect x="275.20" y="418.41" width="4.12" height="3.3" fill="#E2131A"/>
<rect x="275.20" y="418.41" width="3.09" height="3.3" fill="#E53518"/>
<rect x="275.20" y="418.41" width="2.06" height="3.3" fill="#EA5E18"/>
<rect x="275.20" y="424.40" width="4.12" height="3.3" fill="#B81720"/>
<rect x="275.20" y="424.40" width="3.09" height="3.3" fill="#E53518"/>
<rect x="275.20" y="430.39" width="4.12" height="3.3" fill="#EA5E18"/>
<rect x="275.20" y="430.39" width="3.09" height="3.3" fill="#F7A81C"/>
<rect x="275.20" y="430.39" width="1.03" height="3.3" fill="#F6CB1C"/>
<rect x="275.20" y="436.38" width="4.12" height="3.3" fill="#E53518"/>
<rect x="275.20" y="436.38" width="1.03" height="3.3" fill="#EA5E18"/>
<rect x="275.20" y="442.37" width="4.12" height="3.3" fill="#B81720"/>
<rect x="275.20" y="442.37" width="2.06" height="3.3" fill="#E2131A"/>
<rect x="275.20" y="442.37" width="1.03" height="3.3" fill="#EA5E18"/>
<rect x="275.20" y="448.35" width="3.09" height="3.3" fill="#E2131A"/>
<rect x="275.20" y="448.35" width="2.06" height="3.3" fill="#E53518"/>
<rect x="275.20" y="448.35" width="1.03" height="3.3" fill="#EA5E18"/>
<rect x="275.20" y="454.34" width="3.09" height="3.3" fill="#B81720"/>
<rect x="275.20" y="454.34" width="2.06" height="3.3" fill="#E53518"/>
<rect x="275.20" y="460.33" width="3.09" height="3.3" fill="#B81720"/>
<rect x="275.20" y="460.33" width="2.06" height="3.3" fill="#E53518"/>
<rect x="275.20" y="466.32" width="3.09" height="3.3" fill="#E53518"/>
<rect x="275.20" y="466.32" width="1.03" height="3.3" fill="#F08A1B"/>
<rect x="275.20" y="472.31" width="3.09" height="3.3" fill="#E2131A"/>
<rect x="275.20" y="472.31" width="2.06" height="3.3" fill="#E53518"/>
<rect x="275.20" y="472.31" width="1.03" height="3.3" fill="#F6CB1C"/>
<rect x="275.20" y="478.30" width="3.09" height="3.3" fill="#E2131A"/>
<rect x="275.20" y="478.30" width="1.03" height="3.3" fill="#EA5E18"/>
<rect x="275.20" y="484.29" width="2.06" height="3.3" fill="#E2131A"/>
<rect x="275.20" y="484.29" width="1.03" height="3.3" fill="#EA5E18"/>
<rect x="275.20" y="490.27" width="2.06" height="3.3" fill="#E2131A"/>
<rect x="275.20" y="496.26" width="2.06" height="3.3" fill="#E2131A"/>
<rect x="275.20" y="496.26" width="1.03" height="3.3" fill="#E53518"/>
<rect x="275.20" y="502.25" width="2.06" height="3.3" fill="#EA5E18"/>
<rect x="275.20" y="502.25" width="1.03" height="3.3" fill="#F7A81C"/>
<rect x="275.20" y="508.24" width="2.06" height="3.3" fill="#E53518"/>
<rect x="275.20" y="508.24" width="1.03" height="3.3" fill="#F6CB1C"/>
<rect x="275.20" y="514.23" width="2.06" height="3.3" fill="#E53518"/>
<rect x="275.20" y="514.23" width="1.03" height="3.3" fill="#F08A1B"/>
<rect x="275.20" y="520.22" width="2.06" height="3.3" fill="#7B141B"/>
<rect x="275.20" y="520.22" width="1.03" height="3.3" fill="#EA5E18"/>
<rect x="275.20" y="526.21" width="1.03" height="3.3" fill="#E53518"/>
<rect x="275.20" y="532.19" width="1.03" height="3.3" fill="#E53518"/>
<rect x="275.20" y="538.18" width="1.03" height="3.3" fill="#E53518"/>
<rect x="275.20" y="544.17" width="1.03" height="3.3" fill="#E53518"/>
<rect x="275.20" y="550.16" width="1.03" height="3.3" fill="#B81720"/>
<rect x="275.20" y="556.15" width="1.03" height="3.3" fill="#F6CB1C"/>
<rect x="275.20" y="562.14" width="1.03" height="3.3" fill="#E53518"/>
<rect x="275.20" y="568.12" width="1.03" height="3.3" fill="#F7A81C"/>
<rect x="275.20" y="574.11" width="1.03" height="3.3" fill="#F08A1B"/>
<rect x="275.20" y="580.10" width="1.03" height="3.3" fill="#E53518"/>
<rect x="275.20" y="586.09" width="1.03" height="3.3" fill="#E53518"/>
<rect x="275.20" y="592.08" width="1.03" height="3.3" fill="#E2131A"/>
<rect x="275.20" y="598.07" width="1.03" height="3.3" fill="#E53518"/>
<rect x="275.20" y="604.06" width="1.03" height="3.3" fill="#E2131A"/>
<rect x="275.20" y="610.04" width="1.03" height="3.3" fill="#E2131A"/>
<rect x="275.20" y="616.03" width="1.03" height="3.3" fill="#F7A81C"/>
<rect x="275.20" y="622.02" width="1.03" height="3.3" fill="#F08A1B"/>
<rect x="275.20" y="628.01" width="1.03" height="3.3" fill="#F08A1B"/>
<rect x="275.20" y="634.00" width="1.03" height="3.3" fill="#EA5E18"/>
<rect x="275.20" y="639.99" width="1.03" height="3.3" fill="#E2131A"/>
<rect x="275.20" y="645.98" width="1.03" height="3.3" fill="#EA5E18"/>
<rect x="275.20" y="651.96" width="1.03" height="3.3" fill="#F6CB1C"/>
<rect x="275.20" y="657.95" width="1.03" height="3.3" fill="#E53518"/>
<path d="M275.2 267.5H299M275.2 267.5v-1.3M285.5 267.5v-1.3M295.8 267.5v-1.3" stroke="#333" stroke-width="0.7" fill="none"/>
<g font-size="5.0" text-anchor="middle" fill="#000" stroke="#000" stroke-width="0.08"><text x="275.4" y="265.2">0</text><text x="285.6" y="265.2">10</text><text x="295.9" y="265.2">20</text></g>
<text x="288.6" y="483.7" font-size="7.3" font-weight="bold" fill="#000">SNV/INDEL</text>
<g font-size="6.3" fill="#000">
<rect x="288.9" y="487.40" width="6.8" height="6.5" fill="#EFE83A"/>
<text x="297.8" y="492.90">0.2%–3%</text>
<rect x="288.9" y="494.37" width="6.8" height="6.5" fill="#F6CB1C"/>
<text x="297.8" y="499.87">3%–6%</text>
<rect x="288.9" y="501.34" width="6.8" height="6.5" fill="#F7A81C"/>
<text x="297.8" y="506.84">6%–10%</text>
<rect x="288.9" y="508.31" width="6.8" height="6.5" fill="#F08A1B"/>
<text x="297.8" y="513.81">10%–20%</text>
<rect x="288.9" y="515.28" width="6.8" height="6.5" fill="#EA5E18"/>
<text x="297.8" y="520.78">20%–30%</text>
<rect x="288.9" y="522.25" width="6.8" height="6.5" fill="#E53518"/>
<text x="297.8" y="527.75">30%–40%</text>
<rect x="288.9" y="529.22" width="6.8" height="6.5" fill="#E2131A"/>
<text x="297.8" y="534.72">40%–60%</text>
<rect x="288.9" y="536.19" width="6.8" height="6.5" fill="#B81720"/>
<text x="297.8" y="541.69">60%–80%</text>
<rect x="288.9" y="543.16" width="6.8" height="6.5" fill="#7B141B"/>
<text x="297.8" y="548.66">80%–100%</text>
</g>
</g>
<g id="panel-c">
<path d="M346.8 275V364H582" stroke="#9a9a9a" stroke-width="0.7" fill="none"/>
<g font-size="7.1" text-anchor="end" fill="#000">
<text x="343.6" y="366.20">0</text>
<text x="343.6" y="336.55">5</text>
<text x="343.6" y="306.90">10</text>
<text x="343.6" y="277.25">15</text>
</g>
<text transform="translate(328.3 319.3) rotate(-90)" font-size="8" text-anchor="middle" fill="#000">Number of patients</text>
<rect x="357.20" y="298.77" width="9.1" height="65.23" fill="#2B62AD"/>
<text x="361.75" y="295.77" font-size="6.2" text-anchor="middle" fill="#000">11</text>
<text transform="translate(365.15 371.6) rotate(-45)" font-size="7.15" text-anchor="end" fill="#000">IGH::BCL6</text>
<rect x="386.47" y="322.49" width="9.1" height="41.51" fill="#2B62AD"/>
<text x="391.02" y="319.49" font-size="6.2" text-anchor="middle" fill="#000">7</text>
<text transform="translate(394.42 371.6) rotate(-45)" font-size="7.15" text-anchor="end" fill="#000">IGH::MYC</text>
<rect x="415.74" y="334.35" width="9.1" height="29.65" fill="#2B62AD"/>
<text x="420.29" y="331.35" font-size="6.2" text-anchor="middle" fill="#000">5</text>
<text transform="translate(423.69 371.6) rotate(-45)" font-size="7.15" text-anchor="end" fill="#000">IGH::BCL2</text>
<rect x="445.01" y="352.14" width="9.1" height="11.86" fill="#2B62AD"/>
<text x="449.56" y="349.14" font-size="6.2" text-anchor="middle" fill="#000">2</text>
<text transform="translate(452.96 371.6) rotate(-45)" font-size="7.15" text-anchor="end" fill="#000">IGH::CD274</text>
<rect x="474.28" y="358.07" width="9.1" height="5.93" fill="#2B62AD"/>
<text x="478.83" y="355.07" font-size="6.2" text-anchor="middle" fill="#000">1</text>
<text transform="translate(482.23 371.6) rotate(-45)" font-size="7.15" text-anchor="end" fill="#000">IGL::CD274</text>
<rect x="503.55" y="358.07" width="9.1" height="5.93" fill="#2B62AD"/>
<text x="508.10" y="355.07" font-size="6.2" text-anchor="middle" fill="#000">1</text>
<text transform="translate(511.50 371.6) rotate(-45)" font-size="7.15" text-anchor="end" fill="#000">IGH::IRF4</text>
<rect x="532.82" y="358.07" width="9.1" height="5.93" fill="#2B62AD"/>
<text x="537.37" y="355.07" font-size="6.2" text-anchor="middle" fill="#000">1</text>
<text transform="translate(540.77 371.6) rotate(-45)" font-size="7.15" text-anchor="end" fill="#000">IGH::N4BP2</text>
<rect x="562.09" y="340.28" width="9.1" height="23.72" fill="#2B62AD"/>
<text x="566.64" y="337.28" font-size="6.2" text-anchor="middle" fill="#000">4</text>
<text transform="translate(570.04 371.6) rotate(-45)" font-size="7.15" text-anchor="end" fill="#000">IG novel fusions</text>
</g>
<g id="panel-d">
<path d="M455.70 486.60L428.41 438.16A55.60 55.60 0 0 1 506.54 464.08Z" fill="#59ABDC" stroke="#fff" stroke-width="0.7" stroke-linejoin="round"/>
<path d="M455.70 486.60L506.54 464.08A55.60 55.60 0 0 1 473.23 539.36Z" fill="#526EB3" stroke="#fff" stroke-width="0.7" stroke-linejoin="round"/>
<path d="M455.70 486.60L473.23 539.36A55.60 55.60 0 0 1 410.11 518.42Z" fill="#A5A5A5" stroke="#fff" stroke-width="0.7" stroke-linejoin="round"/>
<path d="M455.70 486.60L410.11 518.42A55.60 55.60 0 0 1 400.81 477.74Z" fill="#F3B5C4" stroke="#fff" stroke-width="0.7" stroke-linejoin="round"/>
<path d="M455.70 486.60L400.81 477.74A55.60 55.60 0 0 1 412.22 451.94Z" fill="#F5B243" stroke="#fff" stroke-width="0.7" stroke-linejoin="round"/>
<path d="M455.70 486.60L412.22 451.94A55.60 55.60 0 0 1 428.41 438.16Z" fill="#E7806A" stroke="#fff" stroke-width="0.7" stroke-linejoin="round"/>
<path d="M405.9 436L418.3 445M398.8 460.8L405 464.5" stroke="#9a9a9a" stroke-width="0.55" fill="none"/>
<g font-size="7.55" text-anchor="middle" fill="#000">
<text x="377" y="433.1">IGH&amp;IGK&amp;IGL</text>
<text x="377" y="441.6">(<tspan font-style="italic">N</tspan> = 3), 6.1%</text>
<text x="374" y="458.6">IGK&amp;IGL</text>
<text x="374" y="467.1">(<tspan font-style="italic">N</tspan> = 4), 8.2%</text>
<text x="465.3" y="450.5">IGH&amp;IGK</text>
<text x="465.3" y="459.0">(<tspan font-style="italic">N</tspan> = 13),</text>
<text x="465.3" y="467.5">26.5%</text>
<text x="490" y="496.5">IGK only</text>
<text x="490" y="505.0">(<tspan font-style="italic">N</tspan> = 13),</text>
<text x="490" y="513.5">26.5%</text>
<text x="447.3" y="519.4">NA</text>
<text x="447.3" y="527.9">(<tspan font-style="italic">N</tspan> = 10),</text>
<text x="447.3" y="536.4">20.4%</text>
<text x="418.3" y="489.4">IGH only</text>
<text x="418.3" y="497.9">(<tspan font-style="italic">N</tspan> = 6),</text>
<text x="418.3" y="506.4">12.2%</text>
</g>
</g>
<g id="panel-e">
<path d="M390.7 578V675.2H538.3" stroke="#9a9a9a" stroke-width="0.7" fill="none"/>
<g font-size="7.9" text-anchor="end" fill="#000">
<text x="387.8" y="678.00">0</text>
<text x="387.8" y="664.10">5</text>
<text x="387.8" y="650.20">10</text>
<text x="387.8" y="636.30">15</text>
<text x="387.8" y="622.40">20</text>
<text x="387.8" y="608.50">25</text>
<text x="387.8" y="594.60">30</text>
<text x="387.8" y="580.70">35</text>
</g>
<text transform="translate(371 626.5) rotate(-90)" font-size="8.0" text-anchor="middle" fill="#000">Number of patients</text>
<rect x="407.80" y="583.46" width="15.4" height="91.74" fill="#E8826B"/>
<text x="415.50" y="579.66" font-size="7.9" text-anchor="middle" fill="#000">33</text>
<text x="415.50" y="684.8" font-size="7.9" text-anchor="middle" fill="#000">IGK</text>
<rect x="457.30" y="614.04" width="15.4" height="61.16" fill="#E8826B"/>
<text x="465.00" y="610.24" font-size="7.9" text-anchor="middle" fill="#000">22</text>
<text x="465.00" y="684.8" font-size="7.9" text-anchor="middle" fill="#000">IGH</text>
<rect x="506.30" y="655.74" width="15.4" height="19.46" fill="#E8826B"/>
<text x="514.00" y="651.94" font-size="7.9" text-anchor="middle" fill="#000">7</text>
<text x="514.00" y="684.8" font-size="7.9" text-anchor="middle" fill="#000">IGL</text>
</g>
</svg></body></html>
